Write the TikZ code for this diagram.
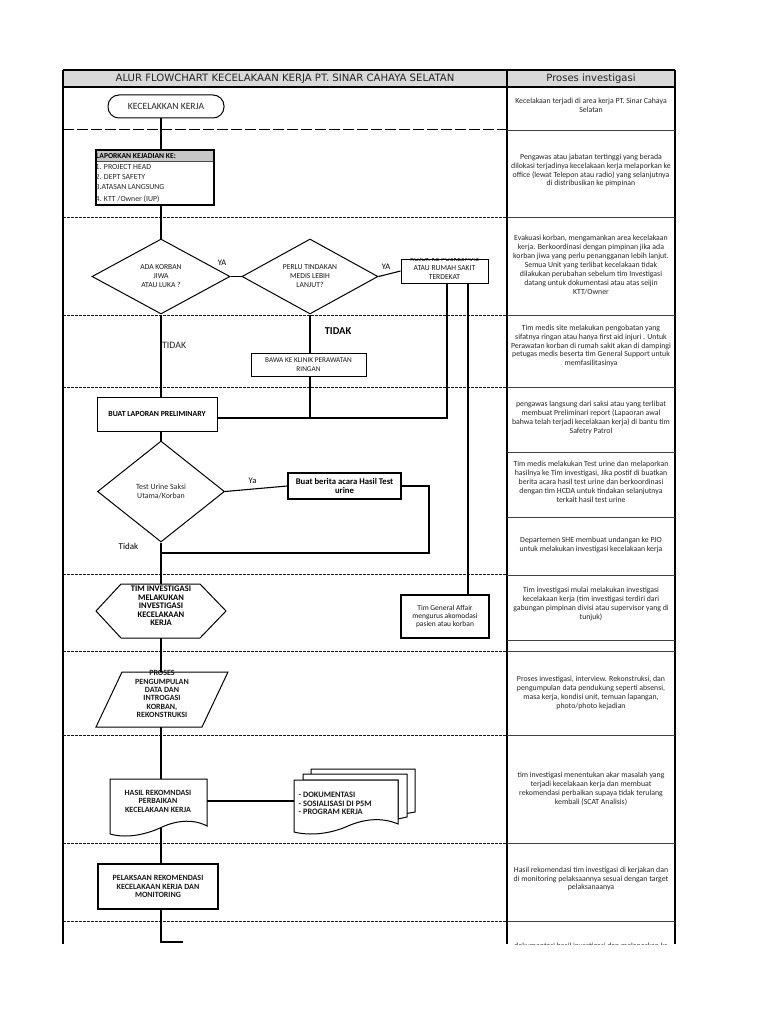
\documentclass[tikz,border=0pt]{standalone}
\usepackage{fontspec}
\setmainfont{Carlito}
\newfontfamily\hdrfont{DejaVu Sans}
\usetikzlibrary{shapes.geometric}
\begin{document}
\begin{tikzpicture}[x=1pt,y=-1pt,
  conn/.style={line width=1.1pt},
  sepline/.style={line width=0.9pt, dash pattern=on 3pt off 1pt, black!90},
  firstsep/.style={line width=1pt, dash pattern=on 11pt off 3pt},
  colline/.style={line width=0.9pt, black!75},
  frameline/.style={line width=1.6pt},
  boxn/.style={draw, line width=0.9pt, inner sep=0pt, align=center},
  tbox/.style={draw, line width=1.6pt, inner sep=0pt, align=center},
  dia/.style={draw, diamond, line width=1pt, inner sep=0pt, align=center},
  shp/.style={draw, line width=1pt, fill=white},
  rtxt/.style={font=\fontsize{7.8}{8.9}\selectfont, align=center, text=black!85, inner sep=0pt},
  ftxt/.style={font=\fontsize{7.6}{9}\selectfont, text=black!90},
  fbold/.style={font=\bfseries\fontsize{8}{8.4}\selectfont, text=black!90},
  lbl/.style={font=\fontsize{8.5}{9}\selectfont, inner sep=0pt}
]
\useasboundingbox (0,0) rectangle (768,1024);
\fill[white] (0,0) rectangle (768,1024);

% ---------- frame ----------
\fill[black!15] (63,70) rectangle (675,87);
\draw[frameline] (63,70) -- (675,70);
\draw[frameline] (63,87) -- (675,87);
\draw[frameline] (63,70) -- (63,944);
\draw[frameline] (507,70) -- (507,944);
\draw[frameline] (675,70) -- (675,944);
\node[font=\hdrfont\fontsize{10.1}{11}\selectfont, inner sep=0pt, text=black!85] (title) at (285,78.5) {ALUR FLOWCHART KECELAKAAN KERJA PT. SINAR CAHAYA SELATAN};
\node[font=\hdrfont\fontsize{10}{11}\selectfont, inner sep=0pt, text=black!85] (hdr2) at (591,78.5) {Proses investigasi};

% separators
\draw[firstsep] (63,130) -- (507,130);
\foreach \yy in {217,315,387,574,651,735,843,921}{
  \draw[sepline] (63,\yy) -- (507,\yy);
}
\foreach \yy in {130,217,315,387,452,517,575,640,651,735,843,921}{
  \draw[colline] (507,\yy) -- (675,\yy);
}

% ---------- right column texts ----------
\node[rtxt] (r1) at (591,105.5) {Kecelakaan terjadi di area kerja PT. Sinar Cahaya\\Selatan};
\node[rtxt] (r2) at (591,170.5) {Pengawas atau jabatan tertinggi yang berada\\dilokasi terjadinya kecelakaan kerja melaporkan ke\\office (lewat Telepon atau radio) yang selanjutnya\\di distribusikan ke pimpinan};
\node[rtxt] (r3) at (591,265) {Evakuasi korban, mengamankan area kecelakaan\\kerja. Berkoordinasi dengan pimpinan jika ada\\korban jiwa yang perlu penangganan lebih lanjut.\\Semua Unit yang terlibat kecelakaan tidak\\dilakukan perubahan sebelum tim Investigasi\\datang untuk dokumentasi atau atas seijin\\KTT/Owner};
\node[rtxt] (r4) at (591,346) {Tim medis site melakukan pengobatan yang\\sifatnya ringan atau hanya first aid injuri . Untuk\\Perawatan korban di rumah sakit akan di dampingi\\petugas medis beserta tim General Support untuk\\memfasilitasinya};
\node[rtxt] (r5) at (591,418) {pengawas langsung dari saksi atau yang terlibat\\membuat Preliminari report (Lapaoran awal\\bahwa telah terjadi kecelakaan kerja) di bantu tim\\Safetry Patrol};
\node[rtxt] (r6) at (591,482) {Tim medis melakukan Test urine dan melaporkan\\hasilnya ke Tim investigasi, Jika postif di buatkan\\berita acara hasil test urine dan berkoordinasi\\dengan tim HCDA untuk tindakan selanjutnya\\terkait hasil test urine};
\node[rtxt] (r7) at (591,545) {Departemen SHE membuat undangan ke PJO\\untuk melakukan investigasi kecelakaan kerja};
\node[rtxt] (r8) at (591,604) {Tim investigasi mulai melakukan investigasi\\kecelakaan kerja (tim investigasi terdiri dari\\gabungan pimpinan divisi atau supervisor yang di\\tunjuk)};
\node[rtxt] (r9) at (591,693) {Proses investigasi, interview. Rekonstruksi, dan\\pengumpulan data pendukung seperti absensi,\\masa kerja, kondisi unit, temuan lapangan,\\photo/photo kejadian};
\node[rtxt] (r10) at (591,789) {tim investigasi menentukan akar masalah yang\\terjadi kecelakaan kerja dan membuat\\rekomendasi perbaikan supaya tidak terulang\\kembali (SCAT Analisis)};
\node[rtxt] (r11) at (591,879) {Hasil rekomendasi tim investigasi di kerjakan dan\\di monitoring pelaksaannya sesuai dengan target\\pelaksanaanya};
\begin{scope}
  \clip (508,921) rectangle (674,944);
  \node[rtxt] (r12) at (591,946.5) {dokumentasi hasil investigasi dan melaporkan ke};
\end{scope}

% ---------- flowchart nodes ----------
\node[draw, rounded corners=11pt, line width=1pt, minimum width=116pt, minimum height=23pt, inner sep=0pt,
      font=\fontsize{9.6}{10}\selectfont, text=black!85] (term) at (166,106.5) {KECELAKKAN KERJA};

\fill[black!22] (96,150) rectangle (214,161);
\draw[line width=0.6pt, black!70] (96,161) -- (214,161);
\node[tbox, minimum width=118pt, minimum height=55pt] (lap) at (155,177.5) {};
\node[anchor=west, inner sep=0pt, font=\bfseries\fontsize{7.6}{8}\selectfont] (lap0) at (96,156) {LAPORKAN KEJADIAN KE:};
\node[anchor=west, inner sep=0pt, font=\fontsize{7.8}{8}\selectfont, text=black!85] (lap1) at (95.5,167) {1. PROJECT HEAD};
\node[anchor=west, inner sep=0pt, font=\fontsize{7.8}{8}\selectfont, text=black!85] (lap2) at (95.5,177) {2. DEPT SAFETY};
\node[anchor=west, inner sep=0pt, font=\fontsize{7.8}{8}\selectfont, text=black!85] (lap3) at (95.5,187.5) {3.ATASAN LANGSUNG};
\node[anchor=west, inner sep=0pt, font=\fontsize{7.8}{8}\selectfont, text=black!85] (lap4) at (95.5,199) {4. KTT /Owner (IUP)};

\node[dia, aspect=1.84, minimum width=138pt, minimum height=75pt, ftxt] (d1) at (161,276.5) {ADA KORBAN\\JIWA\\ATAU LUKA ?};
\node[dia, aspect=1.84, minimum width=136pt, minimum height=75pt, ftxt] (d2) at (310,276.5) {PERLU TINDAKAN\\MEDIS LEBIH\\LANJUT?};

\node[boxn, minimum width=87pt, minimum height=24pt] (rujuk) at (444.5,271) {};
\begin{scope}
  \clip (rujuk.south west) rectangle (rujuk.north east);
  \node[ftxt, align=center, inner sep=0pt] (rujukt) at (444.5,268.5) {RUJUK KE PUSKESMAS\\ATAU RUMAH SAKIT\\TERDEKAT};
\end{scope}

\node[boxn, minimum width=115pt, minimum height=23pt, font=\fontsize{7.3}{9}\selectfont, text=black!90] (bawa) at (308.5,364.5) {BAWA KE KLINIK PERAWATAN\\RINGAN};
\node[boxn, minimum width=120pt, minimum height=34pt, font=\bfseries\fontsize{7.8}{9}\selectfont] (prel) at (157,414) {BUAT LAPORAN PRELIMINARY};

\node[dia, aspect=1.26, minimum width=127pt, minimum height=101pt, font=\fontsize{7.9}{8.6}\selectfont, text=black!85] (d3) at (161,491.5) {Test Urine Saksi\\Utama/Korban};
\node[tbox, minimum width=113pt, minimum height=26pt, font=\bfseries\fontsize{8.7}{9.6}\selectfont] (ber) at (344.5,486) {Buat berita acara Hasil Test\\urine};

% hexagon
\draw[shp] (96,611) -- (121,584) -- (200,584) -- (226,611) -- (200,638) -- (121,638) -- cycle;
\node[minimum width=130pt, minimum height=54pt, inner sep=0pt] (hex) at (161,611) {};
\node[inner sep=0pt, align=center, font=\bfseries\fontsize{8.5}{8.5}\selectfont] (hext) at (161,606) {TIM INVESTIGASI\\MELAKUKAN\\INVESTIGASI\\KECELAKAAN\\KERJA};

\node[tbox, minimum width=88pt, minimum height=43pt, font=\fontsize{7.5}{8.3}\selectfont, text=black!90] (ga) at (445,616.5) {Tim General Affair\\mengurus akomodasi\\pasien atau korban};

% parallelogram
\draw[shp] (122,672) -- (228,672) -- (202,727) -- (96,727) -- cycle;
\node[minimum width=106pt, minimum height=55pt, inner sep=0pt] (par) at (161,699.5) {};
\node[fbold, align=center, inner sep=0pt] (part) at (162,694) {PROSES\\PENGUMPULAN\\DATA DAN\\INTROGASI\\KORBAN,\\REKONSTRUKSI};

% document
\draw[shp] (110,779) -- (207,779) -- (207,826) .. controls (192,818) and (174,821) .. (160,828)
      .. controls (142,836) and (124,838) .. (110,834) -- cycle;
\node[minimum width=97pt, minimum height=44pt, inner sep=0pt] (doc) at (158.5,801) {};
\node[fbold, align=center, inner sep=0pt] (doct) at (158,801) {HASIL REKOMNDASI\\PERBAIKAN\\KECELAKAAN KERJA};

% multi-document
\draw[shp] (311,769) -- (415,769) -- (415,812) -- (398,815) -- (398,780) -- (311,780) -- cycle;
\draw[shp] (303,774) -- (407,774) -- (407,817) -- (398,819) -- (398,780) -- (303,780) -- cycle;
\draw[shp] (294,780) -- (398,780) -- (398,824) .. controls (382,817) and (364,819) .. (348,826)
      .. controls (330,834) and (310,836) .. (294,832) -- cycle;
\node[minimum width=104pt, minimum height=42pt, inner sep=0pt] (md) at (346,801) {};
\node[align=left, anchor=west, inner sep=0pt, text=black!90, font=\bfseries\fontsize{8.3}{8.6}\selectfont] (mdt) at (298.5,803.5) {- DOKUMENTASI\\- SOSIALISASI DI P5M\\- PROGRAM KERJA};

\node[tbox, minimum width=120pt, minimum height=45pt, fbold] (pel) at (158,886.5) {PELAKSAAN REKOMENDASI\\KECELAKAAN KERJA DAN\\MONITORING};

% ---------- helper coordinates ----------
\coordinate (rjA) at (447,283);
\coordinate (rjB) at (468,283);
\coordinate (lp) at (429,553);
\coordinate (docb) at (161,828);
\coordinate (endA) at (161,942);
\coordinate (endB) at (183,942);

% ---------- connectors ----------
\draw[conn] (term.south -| d1.north) -- (d1.north |- lap.north);
\draw[conn] (d1.north |- lap.south) -- (d1.north);
\draw[conn] (d1.east) -- (d2.west);
\draw[conn] (d2.east) -- (rujuk.west);
\draw[conn] (d1.south) -- (d1.south |- prel.north);
\draw[conn] (d2.south) -- (d2.south |- bawa.north);
\draw[conn] (d2.south |- bawa.south) -- (d2.south |- 0,418);
\draw[conn] ([yshift=-4pt]prel.east) -| (rjA);
\draw[conn] (rjB) -- (rjB |- ga.north);
\draw[conn] (d3.north |- prel.south) -- (d3.north);
\draw[conn] (d3.east) -- (ber.west);
\draw[conn] (ber.east) -| (lp) -- (lp -| d3.south);
\draw[conn] (d3.south) -- (hex.north);
\draw[conn] (hex.south) -- (hex.south |- par.north);
\draw[conn] (hex.south |- par.south) -- (hex.south |- doc.north);
\draw[conn] (doc.east) -- (md.west);
\draw[conn] (docb) -- (docb |- pel.north);
\draw[conn] (endA |- pel.south) -- (endA) -- (endB);

% ---------- labels ----------
\node[lbl] (ya1) at (222,263) {YA};
\node[lbl] (ya2) at (386,266.5) {YA};
\node[lbl, font=\bfseries\fontsize{10.5}{11}\selectfont] (td1) at (338,331.5) {TIDAK};
\node[lbl, anchor=west, font=\fontsize{9.8}{11}\selectfont, text=black!85] (td2) at (162,345.5) {TIDAK};
\node[lbl] (ya3) at (252.5,481) {Ya};
\node[lbl, font=\fontsize{9}{10}\selectfont] (td3) at (128.5,546) {Tidak};
\end{tikzpicture}
\end{document}
